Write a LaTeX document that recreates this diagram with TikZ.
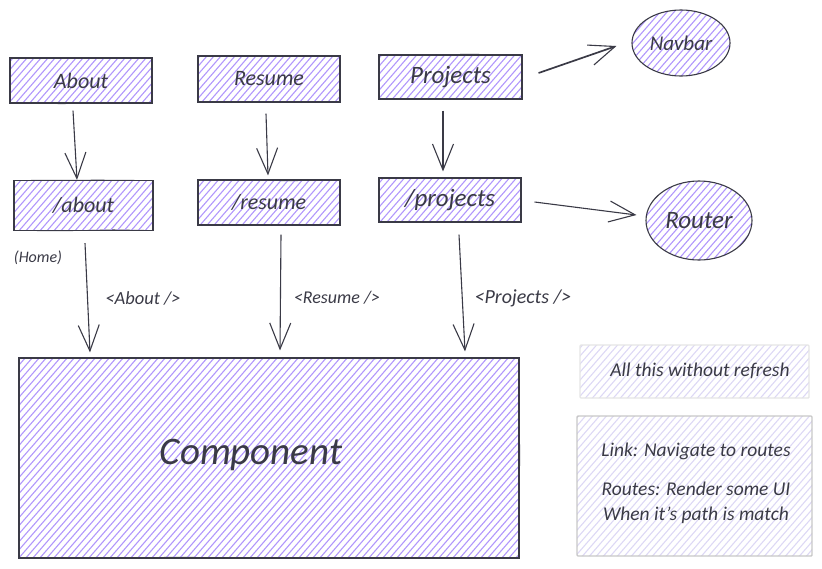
\documentclass[tikz,border=0pt]{standalone}
\usepackage{fontspec}
\setmainfont{Carlito}
\usetikzlibrary{arrows.meta,shapes.geometric,calc,decorations.pathmorphing}
\definecolor{ink}{HTML}{3A3A46}
\definecolor{hatch}{HTML}{B197FC}
\definecolor{softhatch}{HTML}{DDD8F5}
\newcommand{\hatchlines}[2]{%
  \begin{scope}[shift={(path picture bounding box.center)}]
  \foreach \i in {-1200,-#2,...,700}
    \draw[#1,line width=1.1pt] (\i pt,-700pt) -- (\i pt+1220pt,700pt);
  \end{scope}}
\newcommand{\dn}[1]{\raisebox{-2.5pt}{#1}}
\tikzset{
  hand/.style={font=\itshape\fontsize{#1}{#1}\selectfont,text=ink,inner sep=0pt},
  hand/.default=22,
  sketch/.style={draw=ink,line width=1.1pt,
     preaction={draw=ink,line width=.7pt,decorate,decoration={random steps,segment length=50pt,amplitude=.8pt}}},
  boxfill/.style={path picture={\hatchlines{hatch}{1193}}},
  softfill/.style={path picture={\hatchlines{softhatch}{1193}}},
  vbox/.style={rectangle,sketch,boxfill,hand,inner sep=0pt},
  voval/.style={ellipse,draw=ink,line width=1.1pt,boxfill,hand,inner sep=0pt},
  softbox/.style={rectangle,softfill,inner sep=0pt,rounded corners=1pt},
  arr/.style={draw=ink,line width=1.1pt,-{Straight Barb[length=26pt,width=21pt,line width=1.1pt]}},
}
\begin{document}
\begin{tikzpicture}[x=1pt,y=-1pt]
\useasboundingbox (0,0) rectangle (822,568);
\node[vbox,minimum width=142pt,minimum height=45pt] (about) at (81,80.5) {\dn{About}};
\node[vbox,minimum width=142pt,minimum height=46pt] (resume) at (269,79) {\dn{Resume}};
\node[vbox,minimum width=143pt,minimum height=44pt,hand=25] (projects) at (450.5,77) {\dn{Projects}};
\node[vbox,minimum width=139pt,minimum height=50pt] (pabout) at (83.5,205.5) {\dn{/about}};
\node[vbox,minimum width=142pt,minimum height=45pt] (presume) at (269,202.5) {\dn{/resume}};
\node[vbox,minimum width=142pt,minimum height=44pt,hand=25] (pprojects) at (450,200) {\dn{/projects}};
\node[voval,minimum width=98pt,minimum height=66pt,hand=21] (navbar) at (681,43) {Navbar};
\node[voval,minimum width=106pt,minimum height=79pt,hand=25] (router) at (699,220.5) {Router};
\node[vbox,minimum width=500pt,minimum height=200pt] (component) at (269,458) {};
\node[hand=39,anchor=center] (comptext) at (251,455) {Component};
\node[softbox,draw=black!10,line width=1.4pt,minimum width=229pt,minimum height=53pt] (note) at (694.5,371.5) {};
\node[hand=19.5] (notetext) at (700,371) {All this without refresh};
\node[softbox,draw=black!22,line width=1.4pt,minimum width=235pt,minimum height=140pt] (info) at (694.5,486) {};
\node[hand=19.5] (link) at (696,451) {Link: Navigate to routes};
\node[hand=19.5] (routes) at (696,489) {Routes: Render some UI};
\node[hand=19.5] (when) at (696,515) {When it's path is match};
\node[hand=16] (home) at (38,258) {(Home)};
\node[hand=18.5] (labout) at (143,298) {<About />};
\node[hand=18] (lresume) at (337,298) {<Resume />};
\node[hand=20] (lprojects) at (523,298) {<Projects />};
\path[arr] ($(about.south)+(-8,7)$) -- ($(pabout.north)+(-6.5,0)$);
\path[arr] ($(resume.south)+(-3,11)$) -- ($(presume.north)+(-1,-4)$);
\path[arr] ($(projects.south)+(-7.5,11)$) -- ($(pprojects.north)+(-7,-6)$);
\path[arr,line width=1.7pt] ($(projects.east)+(16,-4)$) -- ($(navbar.west)+(-15,3)$);
\path[arr] ($(pprojects.east)+(13,2)$) -- ($(router.west)+(-9,-5.5)$);
\path[arr] ($(pabout.south)+(1.5,12)$) -- ($(component.north)+(-179,-5)$);
\path[arr] ($(presume.south)+(12,9)$) -- ($(component.north)+(11,-7)$);
\path[arr] ($(pprojects.south)+(9,12)$) -- ($(component.north)+(196,-6)$);
\end{tikzpicture}
\end{document}
